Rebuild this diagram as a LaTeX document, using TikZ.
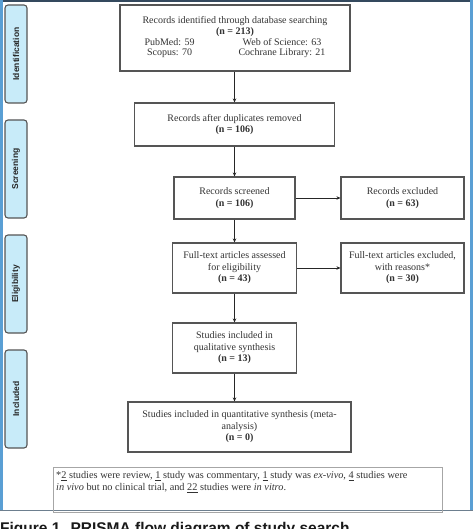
\documentclass[tikz,border=0pt]{standalone}
\usepackage{fontspec}
\setmainfont{Liberation Serif}
\newfontfamily\capfont{Liberation Sans}
\usetikzlibrary{arrows.meta}
\definecolor{framedark}{HTML}{34495E}
\definecolor{frameblue}{HTML}{5A9FD4}
\definecolor{framebot}{HTML}{6D7F8F}
\definecolor{sidefill}{HTML}{C8EBF9}
\definecolor{boxline}{HTML}{555555}
\definecolor{txt}{HTML}{333333}
\begin{document}
\begin{tikzpicture}[x=1pt,y=-1pt,
  flowbox/.style={draw=boxline,line width=1.1pt,fill=white,text=txt,align=center,inner sep=1pt,
    font=\fontsize{10}{11.5}\selectfont},
  sidebox/.style={draw=boxline,line width=1.1pt,fill=sidefill,rounded corners=3pt,rotate=90,
    minimum width=98pt,minimum height=22pt,inner sep=0pt,
    font=\capfont\bfseries\fontsize{8.5}{9}\selectfont,text=black!85},
  flowarrow/.style={draw=black!85,line width=0.8pt,-{Stealth[length=4pt,width=3.5pt]}}]
\useasboundingbox (0,0) rectangle (474,529);
\clip (0,0) rectangle (474,529);
% frame
\fill[framedark] (0,0) rectangle (472.5,2);
\fill[frameblue] (0,0) rectangle (3,511);
\fill[frameblue] (470,0) rectangle (472.5,511);
\fill[framebot] (0,509.5) rectangle (472.5,511);
% side labels
\node[sidebox] (sid) at (16,54) {Identification};
\node[sidebox] (ssc) at (16,169) {Screening};
\node[sidebox] (sel) at (16,284) {Eligibility};
\node[sidebox] (sin) at (16,399) {Included};
% boxes
\node[flowbox,minimum width=230pt,minimum height=66pt] (b1) at (235,38) {Records identified through database searching\\[-0.5pt]
  \textbf{(n = 213)}\\[-0.5pt]
  {\renewcommand\arraystretch{0.95}\begin{tabular}{@{}c@{\hspace{44pt}}c@{}}PubMed: 59 & Web of Science: 63\\ Scopus: 70 & Cochrane Library: 21\end{tabular}}};
\node[flowbox,minimum width=200pt,minimum height=43pt] (b2) at (234.5,124.5) {Records after duplicates removed\\ \textbf{(n = 106)}};
\node[flowbox,minimum width=121pt,minimum height=42pt] (b3) at (234.5,198) {Records screened\\ \textbf{(n = 106)}};
\node[flowbox,minimum width=123pt,minimum height=42pt] (b3r) at (402.5,198) {Records excluded\\ \textbf{(n = 63)}};
\node[flowbox,minimum width=124pt,minimum height=50pt] (b4) at (234.5,268) {Full-text articles assessed\\ for eligibility\\ \textbf{(n = 43)}};
\node[flowbox,minimum width=123pt,minimum height=50pt] (b4r) at (402.5,268) {Full-text articles excluded,\\ with reasons*\\ \textbf{(n = 30)}};
\node[flowbox,minimum width=124pt,minimum height=50pt] (b5) at (234.5,348) {Studies included in\\ qualitative synthesis\\ \textbf{(n = 13)}};
\node[flowbox,minimum width=223pt,minimum height=50pt] (b6) at (239.5,427) {Studies included in quantitative synthesis (meta-\\ analysis)\\ \textbf{(n = 0)}};
% footnote
\node[draw=black!35,line width=0.8pt,minimum width=389pt,minimum height=45pt,anchor=north west,inner sep=0pt] (note) at (53,467) {};
\node[anchor=north west,inner sep=0pt,text=txt,align=left,font=\fontsize{10.3}{12}\selectfont] (notetext) at ([xshift=3pt,yshift=-4pt]note.north west)
 {*\underline{2} studies were review, \underline{1} study was commentary, \underline{1} study was \textit{ex-vivo}, \underline{4} studies were\\
 \textit{in vivo} but no clinical trial, and \underline{22} studies were \textit{in vitro}.};
% caption
\node[anchor=base west,inner sep=0pt,font=\capfont\bfseries\fontsize{15.5}{16}\selectfont,text=black!90] (cap) at (0,533.5) {Figure 1. PRISMA flow diagram of study search};
% arrows
\draw[flowarrow] (b1.south -| b2.north) -- (b2.north);
\draw[flowarrow] (b2.south) -- (b3.north);
\draw[flowarrow] (b3.east) -- (b3r.west);
\draw[flowarrow] (b3.south) -- (b4.north);
\draw[flowarrow] (b4.east) -- (b4r.west);
\draw[flowarrow] (b4.south) -- (b5.north);
\draw[flowarrow] (b5.south) -- (b5.south |- b6.north);
\end{tikzpicture}
\end{document}
